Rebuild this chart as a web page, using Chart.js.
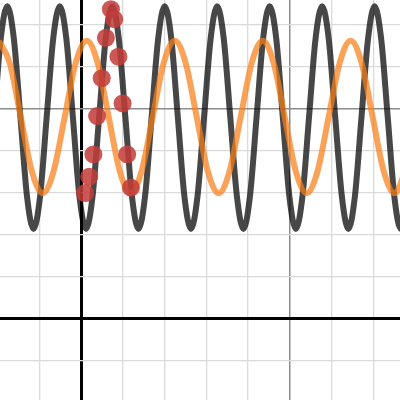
<!DOCTYPE html>
<html>
<head>
<meta charset="utf-8">
<script src="https://cdn.jsdelivr.net/npm/chart.js@4/dist/chart.umd.min.js"></script>
<style>
  html, body { margin: 0; padding: 0; background: #fff; }
  #wrap { width: 400px; height: 400px; position: relative; }
</style>
</head>
<body>
<div id="wrap"><canvas id="graph"></canvas></div>
<script>
// Black wave (troughs, peaks and the points between)
const blackX = [-2.404, -2.247, -2.089, -1.932, -1.775, -1.618, -1.460, -1.303,
                -1.146, -0.988, -0.831, -0.674, -0.516, -0.359, -0.202, -0.045,
                 0.113,  0.270,  0.427,  0.585,  0.742,  0.899,  1.057,  1.214,
                 1.371,  1.529,  1.686,  1.843,  2.000,  2.158,  2.315,  2.472,
                 2.630,  2.787,  2.944,  3.102,  3.259,  3.416,  3.573,  3.731,
                 3.888,  4.045,  4.203,  4.360,  4.517,  4.675,  4.832,  4.989,
                 5.146,  5.304,  5.461,  5.618,  5.776,  5.933,  6.090,  6.248,
                 6.405,  6.562,  6.719,  6.877,  7.034,  7.191,  7.349,  7.506,
                 7.663,  7.821];
const blackY = [2.14, 2.92, 4.79, 6.66, 7.43, 6.66, 4.79, 2.92,
                2.14, 2.92, 4.79, 6.66, 7.43, 6.66, 4.79, 2.92,
                2.14, 2.92, 4.79, 6.66, 7.43, 6.66, 4.79, 2.92,
                2.14, 2.92, 4.79, 6.66, 7.43, 6.66, 4.79, 2.92,
                2.14, 2.92, 4.79, 6.66, 7.43, 6.66, 4.79, 2.92,
                2.14, 2.92, 4.79, 6.66, 7.43, 6.66, 4.79, 2.92,
                2.14, 2.92, 4.79, 6.66, 7.43, 6.66, 4.79, 2.92,
                2.14, 2.92, 4.79, 6.66, 7.43, 6.66, 4.79, 2.92,
                2.14, 2.92];

// Orange wave
const orangeX = [-1.981, -1.717, -1.453, -1.189, -0.926, -0.662, -0.398, -0.134,
                  0.130,  0.393,  0.657,  0.921,  1.185,  1.448,  1.712,  1.976,
                  2.240,  2.503,  2.767,  3.031,  3.295,  3.558,  3.822,  4.086,
                  4.350,  4.613,  4.877,  5.141,  5.405,  5.668,  5.932,  6.196,
                  6.460,  6.723,  6.987,  7.251,  7.515,  7.778];
const orangeY = [6.61, 6.08, 4.80, 3.52, 2.99, 3.52, 4.80, 6.08,
                 6.61, 6.08, 4.80, 3.52, 2.99, 3.52, 4.80, 6.08,
                 6.61, 6.08, 4.80, 3.52, 2.99, 3.52, 4.80, 6.08,
                 6.61, 6.08, 4.80, 3.52, 2.99, 3.52, 4.80, 6.08,
                 6.61, 6.08, 4.80, 3.52, 2.99, 3.52];

// Red sample points
const dotX = [0.09, 0.19, 0.29, 0.38, 0.49, 0.59, 0.71, 0.79, 0.89, 0.99, 1.10, 1.19];
const dotY = [2.99, 3.38, 3.91, 4.82, 5.72, 6.68, 7.36, 7.12, 6.23, 5.12, 3.91, 3.12];

function toPoints(xs, ys) {
    return xs.map((x, i) => ({ x: x, y: ys[i] }));
}

// grid: axis at 0, darker line every 5, light line every 1
function gridColor(ctx) {
    const v = ctx.tick.value;
    if (v === 0) return "#000000";
    if (v % 5 === 0) return "#8c8c8c";
    return "#dadada";
}
function gridWidth(ctx) {
    const v = ctx.tick.value;
    if (v === 0) return 3;
    if (v % 5 === 0) return 1.5;
    return 1.3;
}

function axis(min, max) {
    return {
        type: "linear",
        min: min,
        max: max,
        border: { display: false },
        grid: { drawTicks: false, color: gridColor, lineWidth: gridWidth },
        ticks: { display: false, stepSize: 1, includeBounds: false }
    };
}

new Chart(document.getElementById("graph"), {
    type: "scatter",
    data: {
        datasets: [
            {
                label: "points",
                data: toPoints(dotX, dotY),
                pointRadius: 9,
                pointBorderWidth: 0,
                pointBackgroundColor: "rgba(194, 60, 57, 0.86)",
                showLine: false
            },
            {
                label: "orange",
                data: toPoints(orangeX, orangeY),
                showLine: true,
                borderColor: "rgba(250, 126, 25, 0.72)",
                borderWidth: 6,
                pointRadius: 0,
                cubicInterpolationMode: "monotone"
            },
            {
                label: "black",
                data: toPoints(blackX, blackY),
                showLine: true,
                borderColor: "rgba(0, 0, 0, 0.72)",
                borderWidth: 6,
                pointRadius: 0,
                cubicInterpolationMode: "monotone"
            }
        ]
    },
    options: {
        responsive: true,
        maintainAspectRatio: false,
        animation: false,
        layout: { padding: 0, autoPadding: false },
        plugins: { legend: { display: false }, tooltip: { enabled: false } },
        scales: {
            x: axis(-1.95, 7.643),
            y: axis(-1.924, 7.577)
        }
    }
});
</script>
</body>
</html>
